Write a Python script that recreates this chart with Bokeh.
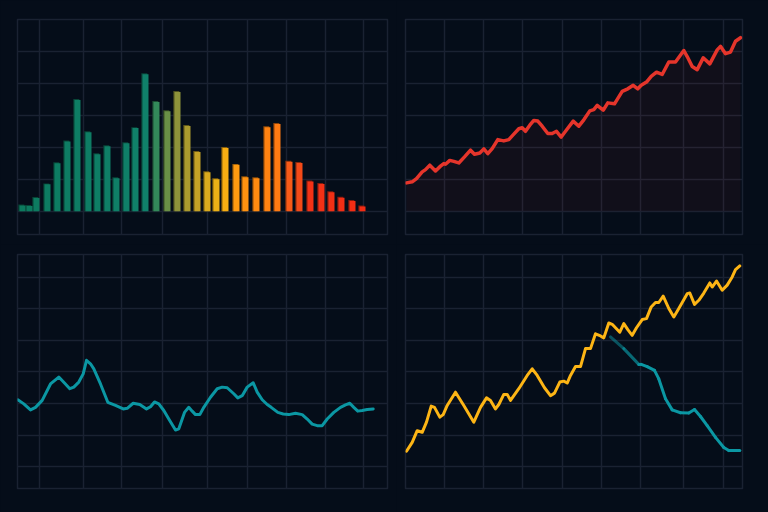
import numpy as np
from bokeh.plotting import figure
from bokeh.layouts import column, row
from bokeh.models import FixedTicker, Range1d
from bokeh.embed import file_html
from bokeh.resources import INLINE

BG = "#050d19"
GRID = "#1a2232"

# ---- top-left: bars ----
bar_x = [0.5, 1.2, 1.9, 3.0, 4.0, 5.0, 6.0, 7.1, 8.0, 9.0, 9.9, 10.9, 11.8, 12.8, 13.9,
         15.0, 16.0, 17.0, 18.0, 19.0, 19.9, 20.8, 21.9, 22.8, 23.9, 25.0, 26.0, 27.2,
         28.2, 29.3, 30.4, 31.4, 32.4, 33.5, 34.5]
bar_y = [1.8, 1.6, 4.1, 8.4, 15.0, 21.8, 34.8, 24.7, 17.8, 20.3, 10.3, 21.3, 26.0, 42.9,
         34.2, 31.3, 37.3, 26.7, 18.5, 12.2, 10.0, 19.8, 14.5, 10.6, 10.3, 26.3, 27.3,
         15.5, 15.1, 9.3, 8.5, 5.9, 4.2, 3.2, 1.5]
left_xticks = [2.2, 6.6, 10.4, 14.5, 19.0, 23.0, 26.9, 30.8, 34.6]
top_yticks = [0, 10, 20, 30, 40, 50]

# ---- top-right: red rising line ----
red_x = [0.1, 0.67, 1.1, 1.67, 2.0, 2.43, 3.0, 3.5, 3.83, 4.0, 4.43, 4.83, 5.33, 5.9, 6.5,
         6.9, 7.43, 7.83, 8.23, 8.67, 9.23, 9.83, 10.33, 10.83, 11.33, 11.67, 12.0, 12.43,
         12.83, 13.23, 13.67, 14.23, 14.67, 15.1, 15.57, 16.0, 16.77, 17.33, 17.83, 18.43,
         18.83, 19.17, 19.77, 20.23, 20.9, 21.67, 22.23, 22.77, 23.23, 23.57, 24.1, 24.57,
         25.1, 25.67, 26.33, 27.0, 27.83, 28.17, 28.67, 29.17, 29.77, 30.43, 31.17, 31.5,
         32.0, 32.5, 33.0, 33.5]
red_y = [8.85, 9.2, 10.2, 12.3, 13.0, 14.4, 12.6, 14.1, 14.9, 14.7, 15.9, 15.6, 15.1, 17.0,
         19.1, 17.8, 18.2, 19.5, 18.0, 19.6, 22.4, 22.0, 22.4, 24.1, 25.8, 26.1, 25.0, 26.9,
         28.4, 28.2, 26.6, 24.3, 24.3, 25.0, 23.2, 25.0, 28.2, 26.6, 28.6, 31.4, 31.8, 33.1,
         31.6, 33.9, 33.6, 37.5, 38.3, 39.4, 38.3, 39.4, 40.4, 42.2, 43.5, 42.8, 46.7, 46.7,
         50.3, 48.4, 45.3, 44.3, 48.0, 46.1, 50.5, 51.6, 49.3, 49.8, 53.2, 54.3]
right_xticks = [3.9, 7.8, 11.7, 15.7, 19.6, 23.5, 27.8, 31.8]

# ---- bottom-left: teal wandering line ----
teal_x = [0.03, 0.63, 1.3, 1.8, 2.47, 3.3, 4.13, 4.7, 5.23, 5.63, 6.13, 6.57, 6.9, 7.3,
          7.63, 8.3, 9.03, 9.8, 10.57, 10.97, 11.57, 12.23, 12.9, 13.3, 13.7, 14.13, 14.63,
          15.13, 15.8, 16.13, 16.7, 17.13, 17.47, 17.8, 18.23, 18.63, 19.3, 19.97, 20.47,
          20.97, 21.63, 22.03, 22.47, 22.97, 23.57, 23.97, 24.47, 24.97, 25.37, 26.03, 26.57,
          27.13, 27.8, 28.47, 28.97, 29.47, 29.97, 30.47, 30.97, 31.63, 32.3, 32.8, 33.23,
          33.63, 34.03, 34.47, 34.97, 35.57]
teal_y = [21.2, 19.9, 18.0, 18.8, 21.0, 26.2, 28.4, 26.5, 24.7, 25.2, 26.8, 29.4, 33.7, 32.6,
          31.0, 26.2, 20.4, 19.4, 18.3, 18.5, 20.1, 19.7, 18.3, 19.0, 20.5, 19.9, 17.8, 15.1,
          11.6, 12.0, 17.2, 18.8, 17.6, 16.5, 16.5, 18.8, 22.0, 24.7, 25.2, 25.0, 23.1, 21.8,
          22.5, 25.2, 26.6, 23.6, 21.2, 19.7, 18.8, 17.2, 16.7, 16.5, 16.9, 16.5, 15.1, 13.5,
          13.0, 13.0, 15.1, 17.2, 18.8, 19.6, 20.1, 18.8, 17.6, 17.8, 18.1, 18.3]
bottom_yticks = [0, 10, 20, 30, 40, 50, 60]

# ---- bottom-right: yellow rising line and teal falling branch ----
gold_x = [0.1, 0.67, 1.17, 1.67, 2.1, 2.57, 2.9, 3.43, 3.77, 4.17, 5.0, 5.83, 6.83, 7.5,
          8.1, 8.5, 9.0, 9.33, 9.83, 10.17, 10.5, 11.33, 12.17, 12.67, 13.17, 13.9, 14.5,
          14.9, 15.43, 15.83, 16.17, 16.5, 17.0, 17.5, 18.0, 18.5, 19.0, 19.5, 19.83, 20.33,
          20.67, 21.43, 21.83, 22.23, 22.67, 23.1, 23.67, 24.1, 24.57, 25.0, 25.33, 25.77,
          26.33, 26.83, 27.33, 28.17, 28.43, 28.9, 29.33, 29.83, 30.43, 30.67, 31.1, 31.67,
          32.17, 32.67, 33.0, 33.43]
gold_y = [4.9, 7.7, 11.4, 10.9, 14.1, 19.2, 18.8, 15.7, 16.5, 19.4, 23.6, 19.4, 14.1, 18.8,
          21.8, 21.0, 18.3, 19.7, 22.9, 22.9, 21.0, 24.7, 28.9, 31.0, 28.9, 25.0, 22.5, 23.3,
          26.8, 27.1, 26.5, 28.9, 31.7, 31.7, 37.4, 37.4, 42.1, 41.4, 40.8, 45.5, 45.1, 42.6,
          45.3, 43.4, 41.6, 44.0, 46.6, 46.9, 50.6, 52.0, 52.0, 54.0, 50.1, 47.4, 50.1, 54.8,
          55.0, 51.4, 52.7, 55.0, 58.2, 56.9, 58.8, 55.9, 57.5, 60.1, 62.4, 63.6]
drop_x = [20.5, 21.83, 23.33, 23.57, 24.17, 24.9, 25.33, 26.0, 26.67, 27.5, 28.33, 28.9,
          29.5, 30.17, 31.0, 31.83, 32.33, 33.43]
drop_y = [41.1, 37.4, 32.4, 32.4, 31.7, 30.5, 27.8, 21.5, 18.0, 17.1, 17.0, 18.1, 15.9,
          13.0, 9.3, 6.1, 5.1, 5.1]


def make_fig(w, h, xr, yr, xt, yt, bl, br, bt, bb):
    p = figure(width=w, height=h, x_range=Range1d(*xr), y_range=Range1d(*yr),
               output_backend="svg", toolbar_location=None, tools="",
               x_axis_location=None, y_axis_location=None,
               min_border_left=bl, min_border_right=br,
               min_border_top=bt, min_border_bottom=bb)
    p.background_fill_color = BG
    p.border_fill_color = BG
    p.outline_line_color = GRID
    p.outline_line_width = 1.5
    p.xgrid.ticker = FixedTicker(ticks=xt)
    p.ygrid.ticker = FixedTicker(ticks=yt)
    p.grid.grid_line_color = GRID
    p.grid.grid_line_width = 1.5
    return p


def hex2rgb(h):
    h = h.lstrip("#")
    return np.array([int(h[i:i + 2], 16) for i in (0, 2, 4)], dtype=float)


def rgb2hex(c):
    c = np.clip(np.round(c), 0, 255).astype(int)
    return "#%02x%02x%02x" % tuple(c)


stops = [(0, "#0c7a5e"), (13, "#10806a"), (14, "#33895a"), (15, "#6a8f46"),
         (16, "#8e933a"), (17, "#aa9a2e"), (18, "#c4a226"), (19, "#d9aa1e"),
         (20, "#ebb116"), (21, "#f8ad12"), (22, "#ff9a10"), (24, "#ff8a10"),
         (26, "#ff7a12"), (27, "#f85a18"), (28, "#f44a18"), (29, "#f23216"),
         (34, "#f22c14")]
sp = np.array([s[0] for s in stops], dtype=float)
sc = np.array([hex2rgb(s[1]) for s in stops])


def ramp(i):
    return rgb2hex(np.array([np.interp(i, sp, sc[:, k]) for k in range(3)]))


n = len(bar_x)
bar_colors = [ramp(i) for i in range(n)]
shadow_colors = [rgb2hex(hex2rgb(c) * 0.55) for c in bar_colors]
shadow_x = [x - 0.12 for x in bar_x]
shadow_top = [y + 0.3 for y in bar_y]

# Top-left
p1 = make_fig(396, 244, (0, 37), (-7.3, 60), left_xticks, top_yticks, 17, 9, 19, 10)
p1.vbar(x=shadow_x, top=shadow_top, bottom=0, width=0.6, fill_color=shadow_colors,
        line_color=None)
p1.vbar(x=bar_x, top=bar_y, bottom=0, width=0.6, fill_color=bar_colors, line_color=None)

# Top-right
p2 = make_fig(372, 244, (0, 33.7), (-7.3, 60), right_xticks, top_yticks, 9, 26, 19, 10)
p2.varea(x=red_x, y1=[0] * len(red_x), y2=red_y, fill_color="#e5352b", fill_alpha=0.06)
p2.line(red_x, red_y, line_color="#e5352b", line_width=3.5, line_join="round",
        line_cap="round")

# Bottom-left
p3 = make_fig(396, 268, (0, 37), (-6.9, 67.2), left_xticks, bottom_yticks, 17, 9, 10, 24)
p3.line(teal_x, teal_y, line_color="#0b97a3", line_width=3, line_join="round",
        line_cap="round")

# Bottom-right
p4 = make_fig(372, 268, (0, 33.7), (-6.9, 67.2), right_xticks, bottom_yticks, 9, 26, 10, 24)
p4.line(gold_x, gold_y, line_color="#fdb515", line_width=3, line_join="round",
        line_cap="round")
m = len(drop_x)
seg_alpha = [min(1.0, 0.5 + 0.17 * k) for k in range(m - 1)]
p4.segment(x0=drop_x[:-1], y0=drop_y[:-1], x1=drop_x[1:], y1=drop_y[1:],
           line_color="#0b97a3", line_alpha=seg_alpha, line_width=3, line_cap="round")

layout = column(row(p1, p2), row(p3, p4))

template = """
{% block postamble %}
<style>html, body { background: #050d19; }</style>
{% endblock %}
"""

open("out.html", "w").write(file_html(layout, INLINE, template=template))
